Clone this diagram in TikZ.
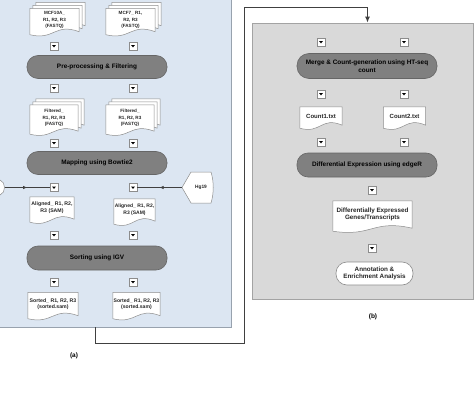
\documentclass[tikz,border=0pt]{standalone}
\usepackage{fontspec}
\setmainfont{Liberation Sans}
\usetikzlibrary{calc,arrows.meta,decorations.markings}
\pgfdeclarelayer{panel}
\pgfdeclarelayer{docs}
\pgfsetlayers{panel,docs,main}
\definecolor{panelAc}{HTML}{DCE6F2}
\definecolor{panelAl}{HTML}{98A2AE}
\definecolor{panelBc}{HTML}{D9D9D9}
\definecolor{panelBl}{HTML}{A3A3A3}
\definecolor{pillc}{HTML}{808080}
\definecolor{pilll}{HTML}{666666}
\definecolor{docl}{HTML}{8C8C8C}
\definecolor{connc}{HTML}{404040}
\newcommand\fs[2]{\fontsize{#1}{#2}\selectfont\bfseries}
\newcommand\docshape[3]{%
  \filldraw[docshp] let \p1=(#1.north west), \p2=(#1.south east) in
  (\x1+#2,\y1+#3) -- (\x2+#2,\y1+#3) -- (\x2+#2,\y2+#3)
  .. controls (0.5*\x1+0.5*\x2+#2,\y2+#3+9pt) and (0.5*\x1+0.5*\x2+#2,\y2+#3-9pt) .. (\x1+#2,\y2+#3-3pt) -- cycle;}
\begin{document}
\begin{tikzpicture}[x=1pt,y=-1pt,
  panelA/.style={draw=panelAl,fill=panelAc,line width=0.8pt,inner sep=0pt,minimum width=236pt,minimum height=332pt},
  panelB/.style={draw=panelBl,fill=panelBc,line width=0.8pt,inner sep=0pt,minimum width=221pt,minimum height=276pt},
  docshp/.style={draw=docl,fill=white,line width=0.5pt},
  docnode/.style={inner sep=0pt,align=center,text=black!85},
  abox/.style={draw=docl,fill=white,line width=0.5pt,minimum size=8pt,inner sep=0pt,
    path picture={\fill[black] ([shift={(-1.8pt,0.8pt)}]path picture bounding box.center) -- ++(3.6pt,0pt) -- ++(-1.8pt,-2.2pt) -- cycle;}},
  pillbox/.style={draw=pilll,fill=pillc,line width=0.6pt,rounded corners=11pt,minimum width=140pt,minimum height=23pt,inner sep=1pt,align=center,text=black,font=\fs{6.4}{7.6}},
  annot/.style={draw=docl,fill=white,line width=0.6pt,rounded corners=11pt,minimum width=77pt,minimum height=23pt,inner sep=1pt,align=center,text=black!85,font=\fs{6.3}{7.5}},
  thinconn/.style={draw=connc,line width=0.6pt,postaction={decorate},
    decoration={markings,mark=at position 0.5 with {\arrow{Latex[length=4pt,width=3.5pt]}}}},
  conn/.style={draw=connc,line width=1pt,-{Latex[length=6pt,width=5pt]}},
  lbl/.style={font=\fs{6.5}{7.5},text=black}]
\useasboundingbox (0,0) rectangle (474,412);
\clip (0,0) rectangle (474,412);
% panels
\begin{pgfonlayer}{panel}
\node[panelA] (pa) at (113,161) {};
\node[panelB] (pb) at (362.5,161) {};
\end{pgfonlayer}
% documents (panel a)
\node[docnode,minimum width=49pt,minimum height=23pt,font=\fs{4.6}{6.5}] (d1) at (54.5,20) {MCF10A\_\\R1, R2, R3\\(FASTQ)};
\node[docnode,minimum width=49pt,minimum height=23pt,font=\fs{4.6}{6.5}] (d2) at (130.5,20) {MCF7\_ R1,\\R2, R3\\(FASTQ)};
\node[docnode,minimum width=48pt,minimum height=26pt,font=\fs{4.6}{6.5}] (d3) at (54,118) {Filtered\_\\R1, R2, R3\\(FASTQ)};
\node[docnode,minimum width=48pt,minimum height=26pt,font=\fs{4.6}{6.5}] (d4) at (130,118) {Filtered\_\\R1, R2, R3\\(FASTQ)};
\node[docnode,minimum width=44pt,minimum height=22pt,font=\fs{5.2}{7}] (d5) at (52,208) {Aligned\_ R1, R2,\\R3 (SAM)};
\node[docnode,minimum width=41pt,minimum height=22pt,font=\fs{5}{7}] (d6) at (134.5,210) {Aligned\_ R1, R2,\\R3 (SAM)};
\node[docnode,minimum width=50pt,minimum height=23pt,font=\fs{5.2}{6.5}] (d7) at (53,304) {Sorted\_ R1, R2, R3\\(sorted.sam)};
\node[docnode,minimum width=47pt,minimum height=23pt,font=\fs{5.1}{6.5}] (d8) at (136.5,304) {Sorted\_ R1, R2, R3\\(sorted.sam)};
% documents (panel b)
\node[docnode,minimum width=42pt,minimum height=18pt,font=\fs{6}{7}] (d9) at (321,116) {Count1.txt};
\node[docnode,minimum width=42pt,minimum height=18pt,font=\fs{6}{7}] (d10) at (404.5,116) {Count2.txt};
\node[docnode,minimum width=79pt,minimum height=27pt,font=\fs{6.3}{7.2}] (d11) at (372.5,214.5) {Differentially Expressed\\Genes/Transcripts};
\begin{pgfonlayer}{docs}
\docshape{d1}{6pt}{6pt}\docshape{d1}{3pt}{3pt}\docshape{d1}{0pt}{0pt}
\docshape{d2}{6pt}{6pt}\docshape{d2}{3pt}{3pt}\docshape{d2}{0pt}{0pt}
\docshape{d3}{6pt}{6pt}\docshape{d3}{3pt}{3pt}\docshape{d3}{0pt}{0pt}
\docshape{d4}{6pt}{6pt}\docshape{d4}{3pt}{3pt}\docshape{d4}{0pt}{0pt}
\docshape{d5}{0pt}{0pt}\docshape{d6}{0pt}{0pt}
\docshape{d7}{0pt}{0pt}\docshape{d8}{0pt}{0pt}
\docshape{d9}{0pt}{0pt}\docshape{d10}{0pt}{0pt}\docshape{d11}{0pt}{0pt}
% Hg19 display shape and partial source shape
\filldraw[docshp] (182,187.5) -- (191,172) -- (211,172) .. controls (214,182) and (214,193) .. (211,203) -- (191,203) -- cycle;
\filldraw[docshp] (-10,180) -- (0,180) .. controls (6,182) and (6,193) .. (0,195) -- (-10,195) -- cycle;
\end{pgfonlayer}
\node[docnode,font=\fs{4.8}{6}] (hg) at (201,187.5) {Hg19};
\coordinate (hgtip) at (182,187.5);
\coordinate (ltip) at (4.5,187.5);
% arrow boxes panel a
\node[abox] (b1) at (54,46) {};
\node[abox] (b2) at (133,46) {};
\node[abox] (b3) at (54,88) {};
\node[abox] (b4) at (133,88) {};
\node[abox] (b5) at (54,143) {};
\node[abox] (b6) at (133,143) {};
\node[abox] (b7) at (54,187.5) {};
\node[abox] (b8) at (133,187.5) {};
\node[abox] (b9) at (54,235) {};
\node[abox] (b10) at (133,235) {};
\node[abox] (b11) at (54,282) {};
\node[abox] (b12) at (133,282) {};
% arrow boxes panel b
\node[abox] (c1) at (321,42) {};
\node[abox] (c2) at (404,42) {};
\node[abox] (c3) at (321,94) {};
\node[abox] (c4) at (404,94) {};
\node[abox] (c5) at (321,142) {};
\node[abox] (c6) at (404,142) {};
\node[abox] (c7) at (372,190) {};
\node[abox] (c8) at (372,248) {};
% process pills
\node[pillbox] (p1) at (97,67) {Pre-processing \& Filtering};
\node[pillbox] (p2) at (97,163) {Mapping using Bowtie2};
\node[pillbox,minimum height=24pt] (p3) at (97,258) {Sorting using IGV};
\node[pillbox,minimum height=25pt,rounded corners=12pt] (p4) at (367,66) {Merge \& Count-generation using HT-seq\\count};
\node[pillbox,minimum height=24pt] (p5) at (367,165) {Differential Expression using edgeR};
\node[annot] (an) at (374.5,273.5) {Annotation \&\\Enrichment Analysis};
% connectors
\draw[thinconn] (ltip) -- (b7.west);
\draw[thinconn] (hgtip) -- (b8.east);
\draw[conn] ([xshift=-18pt]pa.south) -- ++(0,16) -| (244,8) -| ([xshift=5pt]pb.north);
% labels
\node[lbl] (la) at (74,356) {(a)};
\node[lbl] (lb) at (373,317) {(b)};
\end{tikzpicture}
\end{document}
